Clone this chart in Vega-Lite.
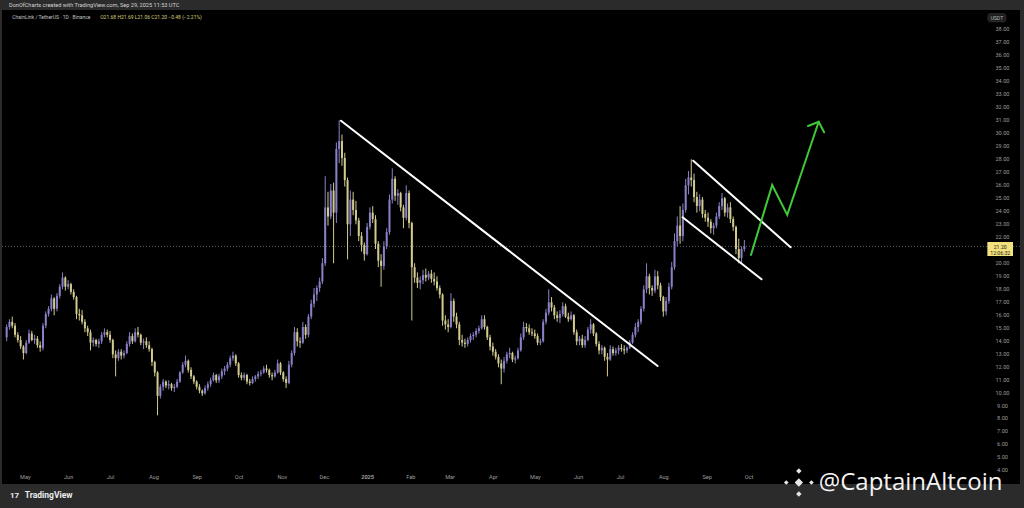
{
"$schema": "https://vega.github.io/schema/vega-lite/v6.json",
"width": 1018, "height": 474,
"autosize": {"type": "none"},
"padding": {"left": 2, "top": 10, "right": 4, "bottom": 24},
"background": "#2b2b2b",
"config": {"view": {"fill": "#000000", "stroke": null}, "font": "Roboto",
  "axis": {"labelOverlap": false, "grid": false, "ticks": false, "domain": false}},
"datasets": {
"candles": [
{"t":"2024-04-18","o":14.2,"h":15.2,"l":13.9,"c":15.0},
{"t":"2024-04-20","o":15.0,"h":15.6,"l":14.8,"c":15.4},
{"t":"2024-04-22","o":15.4,"h":15.8,"l":14.9,"c":15.1},
{"t":"2024-04-24","o":15.1,"h":15.3,"l":14.2,"c":14.4},
{"t":"2024-04-26","o":14.4,"h":14.6,"l":13.8,"c":14.0},
{"t":"2024-04-28","o":14.0,"h":14.3,"l":13.3,"c":13.5},
{"t":"2024-04-30","o":13.5,"h":13.6,"l":12.5,"c":13.0},
{"t":"2024-05-02","o":13.0,"h":14.0,"l":12.9,"c":13.8},
{"t":"2024-05-04","o":13.8,"h":14.8,"l":13.7,"c":14.5},
{"t":"2024-05-06","o":14.5,"h":14.7,"l":13.9,"c":14.0},
{"t":"2024-05-08","o":14.0,"h":14.4,"l":13.7,"c":14.1},
{"t":"2024-05-10","o":14.1,"h":14.3,"l":13.4,"c":13.6},
{"t":"2024-05-12","o":13.6,"h":13.9,"l":13.1,"c":13.4},
{"t":"2024-05-14","o":13.4,"h":15.3,"l":13.2,"c":15.1},
{"t":"2024-05-16","o":15.1,"h":16.2,"l":14.9,"c":16.0},
{"t":"2024-05-18","o":16.0,"h":16.6,"l":15.8,"c":16.4},
{"t":"2024-05-20","o":16.4,"h":17.5,"l":16.2,"c":17.2},
{"t":"2024-05-22","o":17.2,"h":17.3,"l":15.9,"c":16.4},
{"t":"2024-05-24","o":16.4,"h":17.6,"l":16.2,"c":17.4},
{"t":"2024-05-26","o":17.4,"h":18.3,"l":17.2,"c":18.1},
{"t":"2024-05-28","o":18.1,"h":19.2,"l":17.9,"c":18.8},
{"t":"2024-05-30","o":18.8,"h":18.9,"l":17.8,"c":18.1},
{"t":"2024-06-01","o":18.1,"h":18.6,"l":17.9,"c":18.3},
{"t":"2024-06-03","o":18.3,"h":18.4,"l":17.5,"c":17.7},
{"t":"2024-06-05","o":17.7,"h":17.9,"l":17.1,"c":17.3},
{"t":"2024-06-07","o":17.3,"h":17.4,"l":15.6,"c":16.0},
{"t":"2024-06-09","o":16.0,"h":16.4,"l":15.5,"c":15.9},
{"t":"2024-06-11","o":15.9,"h":16.3,"l":15.2,"c":15.4},
{"t":"2024-06-13","o":15.4,"h":15.6,"l":14.6,"c":14.9},
{"t":"2024-06-15","o":14.9,"h":15.1,"l":14.3,"c":14.6},
{"t":"2024-06-17","o":14.6,"h":14.8,"l":13.2,"c":13.8},
{"t":"2024-06-19","o":13.8,"h":14.2,"l":13.5,"c":14.0},
{"t":"2024-06-21","o":14.0,"h":14.1,"l":13.5,"c":13.7},
{"t":"2024-06-23","o":13.7,"h":14.1,"l":13.4,"c":13.9},
{"t":"2024-06-25","o":13.9,"h":14.6,"l":13.7,"c":14.4},
{"t":"2024-06-27","o":14.4,"h":14.9,"l":14.2,"c":14.6},
{"t":"2024-06-29","o":14.6,"h":14.8,"l":14.2,"c":14.4},
{"t":"2024-07-01","o":14.4,"h":14.7,"l":13.8,"c":14.0},
{"t":"2024-07-03","o":14.0,"h":14.1,"l":12.6,"c":12.9},
{"t":"2024-07-05","o":12.9,"h":13.2,"l":11.2,"c":12.6},
{"t":"2024-07-07","o":12.6,"h":13.3,"l":12.4,"c":13.1},
{"t":"2024-07-09","o":13.1,"h":13.3,"l":12.5,"c":12.8},
{"t":"2024-07-11","o":12.8,"h":13.2,"l":12.6,"c":13.0},
{"t":"2024-07-13","o":13.0,"h":13.9,"l":12.9,"c":13.7},
{"t":"2024-07-15","o":13.7,"h":14.6,"l":13.5,"c":14.3},
{"t":"2024-07-17","o":14.3,"h":14.5,"l":13.7,"c":13.9},
{"t":"2024-07-19","o":13.9,"h":14.9,"l":13.8,"c":14.6},
{"t":"2024-07-21","o":14.6,"h":15.0,"l":14.2,"c":14.4},
{"t":"2024-07-23","o":14.4,"h":14.5,"l":13.6,"c":13.8},
{"t":"2024-07-25","o":13.8,"h":14.1,"l":13.3,"c":13.9},
{"t":"2024-07-27","o":13.9,"h":14.2,"l":13.4,"c":13.6},
{"t":"2024-07-29","o":13.6,"h":13.9,"l":13.1,"c":13.3},
{"t":"2024-07-31","o":13.3,"h":13.4,"l":12.0,"c":12.3},
{"t":"2024-08-02","o":12.3,"h":12.4,"l":11.2,"c":11.5},
{"t":"2024-08-04","o":11.5,"h":11.6,"l":8.2,"c":9.7},
{"t":"2024-08-06","o":9.7,"h":10.6,"l":9.5,"c":10.4},
{"t":"2024-08-08","o":10.4,"h":11.0,"l":10.1,"c":10.8},
{"t":"2024-08-10","o":10.8,"h":10.9,"l":10.3,"c":10.5},
{"t":"2024-08-12","o":10.5,"h":10.9,"l":10.2,"c":10.6},
{"t":"2024-08-14","o":10.6,"h":10.7,"l":10.1,"c":10.3},
{"t":"2024-08-16","o":10.3,"h":10.6,"l":10.0,"c":10.4},
{"t":"2024-08-18","o":10.4,"h":11.0,"l":10.3,"c":10.8},
{"t":"2024-08-20","o":10.8,"h":11.6,"l":10.7,"c":11.5},
{"t":"2024-08-22","o":11.5,"h":12.3,"l":11.4,"c":12.1},
{"t":"2024-08-24","o":12.1,"h":12.8,"l":11.9,"c":12.4},
{"t":"2024-08-26","o":12.4,"h":12.5,"l":11.5,"c":11.7},
{"t":"2024-08-28","o":11.7,"h":11.9,"l":11.0,"c":11.2},
{"t":"2024-08-30","o":11.2,"h":11.3,"l":10.6,"c":10.8},
{"t":"2024-09-01","o":10.8,"h":10.9,"l":10.2,"c":10.4},
{"t":"2024-09-03","o":10.4,"h":10.6,"l":9.9,"c":10.1},
{"t":"2024-09-05","o":10.1,"h":10.2,"l":9.7,"c":9.9},
{"t":"2024-09-07","o":9.9,"h":10.5,"l":9.8,"c":10.3},
{"t":"2024-09-09","o":10.3,"h":10.8,"l":10.1,"c":10.6},
{"t":"2024-09-11","o":10.6,"h":11.1,"l":10.4,"c":10.9},
{"t":"2024-09-13","o":10.9,"h":11.5,"l":10.8,"c":11.3},
{"t":"2024-09-15","o":11.3,"h":11.4,"l":10.7,"c":10.9},
{"t":"2024-09-17","o":10.9,"h":11.4,"l":10.7,"c":11.2},
{"t":"2024-09-19","o":11.2,"h":11.8,"l":11.0,"c":11.6},
{"t":"2024-09-21","o":11.6,"h":12.0,"l":11.3,"c":11.8},
{"t":"2024-09-23","o":11.8,"h":12.3,"l":11.6,"c":12.1},
{"t":"2024-09-25","o":12.1,"h":12.8,"l":11.9,"c":12.6},
{"t":"2024-09-27","o":12.6,"h":13.1,"l":12.4,"c":12.8},
{"t":"2024-09-29","o":12.8,"h":12.9,"l":12.0,"c":12.2},
{"t":"2024-10-01","o":12.2,"h":12.3,"l":11.1,"c":11.3},
{"t":"2024-10-03","o":11.3,"h":11.5,"l":10.9,"c":11.1},
{"t":"2024-10-05","o":11.1,"h":11.5,"l":10.9,"c":11.3},
{"t":"2024-10-07","o":11.3,"h":11.4,"l":10.6,"c":10.8},
{"t":"2024-10-09","o":10.8,"h":11.0,"l":10.5,"c":10.7},
{"t":"2024-10-11","o":10.7,"h":11.2,"l":10.6,"c":11.0},
{"t":"2024-10-13","o":11.0,"h":11.3,"l":10.8,"c":11.2},
{"t":"2024-10-15","o":11.2,"h":11.6,"l":11.0,"c":11.4},
{"t":"2024-10-17","o":11.4,"h":11.7,"l":11.2,"c":11.5},
{"t":"2024-10-19","o":11.5,"h":12.0,"l":11.4,"c":11.8},
{"t":"2024-10-21","o":11.8,"h":12.1,"l":11.5,"c":11.7},
{"t":"2024-10-23","o":11.7,"h":11.8,"l":11.1,"c":11.3},
{"t":"2024-10-25","o":11.3,"h":11.5,"l":10.9,"c":11.2},
{"t":"2024-10-27","o":11.2,"h":11.7,"l":11.1,"c":11.5},
{"t":"2024-10-29","o":11.5,"h":12.5,"l":11.4,"c":12.2},
{"t":"2024-10-31","o":12.2,"h":12.3,"l":11.3,"c":11.5},
{"t":"2024-11-02","o":11.5,"h":11.6,"l":10.8,"c":11.0},
{"t":"2024-11-04","o":11.0,"h":11.2,"l":10.3,"c":10.7},
{"t":"2024-11-06","o":10.7,"h":12.4,"l":10.6,"c":12.1},
{"t":"2024-11-08","o":12.1,"h":13.2,"l":11.9,"c":13.0},
{"t":"2024-11-10","o":13.0,"h":15.0,"l":12.8,"c":14.6},
{"t":"2024-11-12","o":14.6,"h":14.9,"l":13.5,"c":13.9},
{"t":"2024-11-14","o":13.9,"h":14.2,"l":13.4,"c":13.8},
{"t":"2024-11-16","o":13.8,"h":15.4,"l":13.7,"c":15.0},
{"t":"2024-11-18","o":15.0,"h":15.2,"l":14.1,"c":14.4},
{"t":"2024-11-20","o":14.4,"h":16.0,"l":14.2,"c":15.8},
{"t":"2024-11-22","o":15.8,"h":17.1,"l":15.6,"c":16.8},
{"t":"2024-11-24","o":16.8,"h":18.0,"l":16.5,"c":17.5},
{"t":"2024-11-26","o":17.5,"h":18.2,"l":17.0,"c":18.0},
{"t":"2024-11-28","o":18.0,"h":18.8,"l":17.7,"c":18.5},
{"t":"2024-11-30","o":18.5,"h":20.3,"l":18.3,"c":19.9},
{"t":"2024-12-02","o":19.9,"h":26.6,"l":19.7,"c":24.2},
{"t":"2024-12-04","o":24.2,"h":25.4,"l":22.8,"c":23.5},
{"t":"2024-12-06","o":23.5,"h":26.0,"l":23.3,"c":25.5},
{"t":"2024-12-08","o":25.5,"h":26.1,"l":19.9,"c":23.8},
{"t":"2024-12-10","o":23.8,"h":29.2,"l":23.0,"c":28.7},
{"t":"2024-12-12","o":28.7,"h":30.9,"l":27.6,"c":29.3},
{"t":"2024-12-14","o":29.3,"h":29.8,"l":27.4,"c":28.0},
{"t":"2024-12-16","o":28.0,"h":28.4,"l":25.8,"c":26.3},
{"t":"2024-12-18","o":26.3,"h":26.5,"l":20.2,"c":22.9},
{"t":"2024-12-20","o":22.9,"h":25.5,"l":22.0,"c":24.8},
{"t":"2024-12-22","o":24.8,"h":25.4,"l":23.6,"c":24.0},
{"t":"2024-12-24","o":24.0,"h":24.7,"l":22.9,"c":23.2},
{"t":"2024-12-26","o":23.2,"h":23.4,"l":21.6,"c":22.0},
{"t":"2024-12-28","o":22.0,"h":22.3,"l":20.8,"c":21.3},
{"t":"2024-12-30","o":21.3,"h":21.5,"l":20.1,"c":20.6},
{"t":"2025-01-01","o":20.6,"h":23.0,"l":20.5,"c":22.7},
{"t":"2025-01-03","o":22.7,"h":24.2,"l":22.5,"c":23.8},
{"t":"2025-01-05","o":23.8,"h":24.3,"l":23.0,"c":23.3},
{"t":"2025-01-07","o":23.3,"h":23.6,"l":21.0,"c":21.4},
{"t":"2025-01-09","o":21.4,"h":21.6,"l":19.6,"c":20.1},
{"t":"2025-01-11","o":20.1,"h":20.6,"l":18.1,"c":19.7},
{"t":"2025-01-13","o":19.7,"h":21.6,"l":19.4,"c":21.2},
{"t":"2025-01-15","o":21.2,"h":22.6,"l":21.0,"c":22.3},
{"t":"2025-01-17","o":22.3,"h":25.2,"l":22.1,"c":24.8},
{"t":"2025-01-19","o":24.8,"h":27.2,"l":24.5,"c":26.4},
{"t":"2025-01-21","o":26.4,"h":26.6,"l":24.7,"c":25.1},
{"t":"2025-01-23","o":25.1,"h":25.6,"l":24.4,"c":25.3},
{"t":"2025-01-25","o":25.3,"h":25.4,"l":23.9,"c":24.2},
{"t":"2025-01-27","o":24.2,"h":24.4,"l":22.6,"c":23.4},
{"t":"2025-01-29","o":23.4,"h":25.9,"l":23.2,"c":25.3},
{"t":"2025-01-31","o":25.3,"h":25.5,"l":22.6,"c":23.0},
{"t":"2025-02-02","o":23.0,"h":23.1,"l":15.5,"c":19.6},
{"t":"2025-02-04","o":19.6,"h":19.9,"l":18.4,"c":18.8},
{"t":"2025-02-06","o":18.8,"h":19.2,"l":18.0,"c":18.4},
{"t":"2025-02-08","o":18.4,"h":18.9,"l":17.9,"c":18.6},
{"t":"2025-02-10","o":18.6,"h":19.4,"l":18.3,"c":19.0},
{"t":"2025-02-12","o":19.0,"h":19.5,"l":18.5,"c":18.8},
{"t":"2025-02-14","o":18.8,"h":19.3,"l":18.6,"c":19.1},
{"t":"2025-02-16","o":19.1,"h":19.4,"l":18.4,"c":18.7},
{"t":"2025-02-18","o":18.7,"h":19.2,"l":18.2,"c":18.5},
{"t":"2025-02-20","o":18.5,"h":18.9,"l":17.8,"c":18.0},
{"t":"2025-02-22","o":18.0,"h":18.2,"l":17.2,"c":17.5},
{"t":"2025-02-24","o":17.5,"h":17.6,"l":15.1,"c":15.5},
{"t":"2025-02-26","o":15.5,"h":15.9,"l":14.8,"c":15.2},
{"t":"2025-02-28","o":15.2,"h":15.6,"l":14.6,"c":15.0},
{"t":"2025-03-02","o":15.0,"h":17.6,"l":14.9,"c":17.0},
{"t":"2025-03-04","o":17.0,"h":17.2,"l":15.4,"c":15.8},
{"t":"2025-03-06","o":15.8,"h":16.1,"l":14.9,"c":15.2},
{"t":"2025-03-08","o":15.2,"h":15.4,"l":13.6,"c":14.0},
{"t":"2025-03-10","o":14.0,"h":14.4,"l":13.5,"c":13.8},
{"t":"2025-03-12","o":13.8,"h":14.1,"l":13.4,"c":13.7},
{"t":"2025-03-14","o":13.7,"h":14.2,"l":13.5,"c":14.0},
{"t":"2025-03-16","o":14.0,"h":14.5,"l":13.8,"c":14.3},
{"t":"2025-03-18","o":14.3,"h":14.6,"l":14.0,"c":14.4},
{"t":"2025-03-20","o":14.4,"h":14.9,"l":14.2,"c":14.7},
{"t":"2025-03-22","o":14.7,"h":15.1,"l":14.5,"c":14.9},
{"t":"2025-03-24","o":14.9,"h":15.9,"l":14.8,"c":15.6},
{"t":"2025-03-26","o":15.6,"h":15.9,"l":14.8,"c":15.0},
{"t":"2025-03-28","o":15.0,"h":15.1,"l":14.0,"c":14.2},
{"t":"2025-03-30","o":14.2,"h":14.4,"l":13.2,"c":13.5},
{"t":"2025-04-01","o":13.5,"h":13.8,"l":12.8,"c":13.1},
{"t":"2025-04-03","o":13.1,"h":13.3,"l":12.5,"c":12.7},
{"t":"2025-04-05","o":12.7,"h":12.9,"l":11.9,"c":12.2},
{"t":"2025-04-07","o":12.2,"h":12.5,"l":10.6,"c":11.8},
{"t":"2025-04-09","o":11.8,"h":12.7,"l":11.5,"c":12.4},
{"t":"2025-04-11","o":12.4,"h":13.1,"l":12.2,"c":12.9},
{"t":"2025-04-13","o":12.9,"h":13.4,"l":12.6,"c":13.0},
{"t":"2025-04-15","o":13.0,"h":13.1,"l":12.3,"c":12.5},
{"t":"2025-04-17","o":12.5,"h":12.8,"l":12.2,"c":12.6},
{"t":"2025-04-19","o":12.6,"h":13.4,"l":12.5,"c":13.2},
{"t":"2025-04-21","o":13.2,"h":14.5,"l":13.1,"c":14.2},
{"t":"2025-04-23","o":14.2,"h":15.4,"l":14.0,"c":15.0},
{"t":"2025-04-25","o":15.0,"h":15.3,"l":14.6,"c":14.9},
{"t":"2025-04-27","o":14.9,"h":15.2,"l":14.4,"c":14.6},
{"t":"2025-04-29","o":14.6,"h":14.9,"l":14.3,"c":14.5},
{"t":"2025-05-01","o":14.5,"h":14.8,"l":14.1,"c":14.3},
{"t":"2025-05-03","o":14.3,"h":14.5,"l":13.6,"c":13.8},
{"t":"2025-05-05","o":13.8,"h":14.1,"l":13.6,"c":13.9},
{"t":"2025-05-07","o":13.9,"h":15.6,"l":13.8,"c":15.4},
{"t":"2025-05-09","o":15.4,"h":16.4,"l":15.2,"c":16.1},
{"t":"2025-05-11","o":16.1,"h":17.9,"l":15.9,"c":16.9},
{"t":"2025-05-13","o":16.9,"h":17.3,"l":16.2,"c":16.5},
{"t":"2025-05-15","o":16.5,"h":16.7,"l":15.6,"c":15.9},
{"t":"2025-05-17","o":15.9,"h":16.2,"l":15.4,"c":15.7},
{"t":"2025-05-19","o":15.7,"h":16.3,"l":15.3,"c":16.0},
{"t":"2025-05-21","o":16.0,"h":16.9,"l":15.8,"c":16.6},
{"t":"2025-05-23","o":16.6,"h":16.8,"l":15.7,"c":15.8},
{"t":"2025-05-25","o":15.8,"h":16.1,"l":15.4,"c":15.6},
{"t":"2025-05-27","o":15.6,"h":16.2,"l":15.5,"c":15.9},
{"t":"2025-05-29","o":15.9,"h":16.0,"l":14.4,"c":14.6},
{"t":"2025-05-31","o":14.6,"h":14.8,"l":13.6,"c":13.9},
{"t":"2025-06-02","o":13.9,"h":14.3,"l":13.6,"c":14.1},
{"t":"2025-06-04","o":14.1,"h":14.4,"l":13.4,"c":13.6},
{"t":"2025-06-06","o":13.6,"h":14.3,"l":13.4,"c":14.0},
{"t":"2025-06-08","o":14.0,"h":15.0,"l":13.9,"c":14.8},
{"t":"2025-06-10","o":14.8,"h":15.6,"l":14.5,"c":15.2},
{"t":"2025-06-12","o":15.2,"h":15.3,"l":14.3,"c":14.5},
{"t":"2025-06-14","o":14.5,"h":14.6,"l":13.5,"c":13.7},
{"t":"2025-06-16","o":13.7,"h":13.9,"l":12.9,"c":13.2},
{"t":"2025-06-18","o":13.2,"h":13.6,"l":12.9,"c":13.4},
{"t":"2025-06-20","o":13.4,"h":13.5,"l":12.4,"c":12.7},
{"t":"2025-06-22","o":12.7,"h":13.0,"l":11.2,"c":12.5},
{"t":"2025-06-24","o":12.5,"h":13.6,"l":12.4,"c":13.3},
{"t":"2025-06-26","o":13.3,"h":13.5,"l":12.8,"c":13.0},
{"t":"2025-06-28","o":13.0,"h":13.4,"l":12.8,"c":13.2},
{"t":"2025-06-30","o":13.2,"h":13.6,"l":12.9,"c":13.4},
{"t":"2025-07-02","o":13.4,"h":13.7,"l":13.1,"c":13.3},
{"t":"2025-07-04","o":13.3,"h":13.6,"l":12.9,"c":13.2},
{"t":"2025-07-06","o":13.2,"h":13.5,"l":13.0,"c":13.4},
{"t":"2025-07-08","o":13.4,"h":14.0,"l":13.3,"c":13.8},
{"t":"2025-07-10","o":13.8,"h":14.6,"l":13.7,"c":14.4},
{"t":"2025-07-12","o":14.4,"h":15.3,"l":14.2,"c":15.0},
{"t":"2025-07-14","o":15.0,"h":15.6,"l":14.6,"c":15.4},
{"t":"2025-07-16","o":15.4,"h":16.6,"l":15.2,"c":16.4},
{"t":"2025-07-18","o":16.4,"h":18.2,"l":16.2,"c":17.9},
{"t":"2025-07-20","o":17.9,"h":19.9,"l":17.6,"c":18.9},
{"t":"2025-07-22","o":18.9,"h":19.1,"l":17.5,"c":18.0},
{"t":"2025-07-24","o":18.0,"h":18.2,"l":17.4,"c":17.8},
{"t":"2025-07-26","o":17.8,"h":19.4,"l":17.6,"c":18.9},
{"t":"2025-07-28","o":18.9,"h":19.3,"l":17.9,"c":18.2},
{"t":"2025-07-30","o":18.2,"h":18.4,"l":17.0,"c":17.3},
{"t":"2025-08-01","o":17.3,"h":17.4,"l":15.8,"c":16.2},
{"t":"2025-08-03","o":16.2,"h":17.3,"l":15.9,"c":17.0},
{"t":"2025-08-05","o":17.0,"h":18.4,"l":16.8,"c":18.1},
{"t":"2025-08-07","o":18.1,"h":20.0,"l":17.9,"c":19.6},
{"t":"2025-08-09","o":19.6,"h":22.2,"l":19.4,"c":21.6},
{"t":"2025-08-11","o":21.6,"h":23.5,"l":21.2,"c":22.8},
{"t":"2025-08-13","o":22.8,"h":24.3,"l":21.4,"c":22.0},
{"t":"2025-08-15","o":22.0,"h":24.5,"l":21.6,"c":24.0},
{"t":"2025-08-17","o":24.0,"h":26.4,"l":23.8,"c":25.9},
{"t":"2025-08-19","o":25.9,"h":27.0,"l":25.2,"c":26.5},
{"t":"2025-08-21","o":26.5,"h":27.9,"l":25.8,"c":26.3},
{"t":"2025-08-23","o":26.3,"h":26.8,"l":24.6,"c":25.0},
{"t":"2025-08-25","o":25.0,"h":25.4,"l":23.8,"c":24.3},
{"t":"2025-08-27","o":24.3,"h":25.2,"l":23.9,"c":24.8},
{"t":"2025-08-29","o":24.8,"h":25.0,"l":23.4,"c":23.7},
{"t":"2025-08-31","o":23.7,"h":24.0,"l":23.1,"c":23.4},
{"t":"2025-09-02","o":23.4,"h":23.8,"l":22.7,"c":23.1},
{"t":"2025-09-04","o":23.1,"h":23.3,"l":22.2,"c":22.6},
{"t":"2025-09-06","o":22.6,"h":23.0,"l":22.1,"c":22.8},
{"t":"2025-09-08","o":22.8,"h":23.8,"l":22.6,"c":23.5},
{"t":"2025-09-10","o":23.5,"h":24.6,"l":23.3,"c":24.3},
{"t":"2025-09-12","o":24.3,"h":25.3,"l":24.0,"c":24.9},
{"t":"2025-09-14","o":24.9,"h":25.0,"l":23.5,"c":23.8},
{"t":"2025-09-16","o":23.8,"h":24.5,"l":23.4,"c":24.2},
{"t":"2025-09-18","o":24.2,"h":24.6,"l":23.0,"c":23.3},
{"t":"2025-09-20","o":23.3,"h":23.5,"l":22.4,"c":22.7},
{"t":"2025-09-22","o":22.7,"h":22.8,"l":20.6,"c":21.0},
{"t":"2025-09-24","o":21.0,"h":21.8,"l":19.9,"c":20.3},
{"t":"2025-09-26","o":20.3,"h":21.2,"l":19.9,"c":21.0},
{"t":"2025-09-28","o":21.0,"h":21.7,"l":20.8,"c":21.2}
],
"trend": [
{"g":"a","i":0,"t":"2024-12-13T07:00:00Z","p":30.87},{"g":"a","i":1,"t":"2025-07-27T22:00:00Z","p":12.0},
{"g":"b","i":0,"t":"2025-08-22T10:00:00Z","p":27.79},{"g":"b","i":1,"t":"2025-10-31T02:00:00Z","p":21.13},
{"g":"c","i":0,"t":"2025-08-14T19:00:00Z","p":23.44},{"g":"c","i":1,"t":"2025-10-10T07:00:00Z","p":18.67}
],
"arrow": [
{"g":"a","i":0,"t":"2025-10-02T17:00:00Z","p":20.54},{"g":"a","i":1,"t":"2025-10-17T22:00:00Z","p":25.92},{"g":"a","i":2,"t":"2025-10-28T17:00:00Z","p":23.62},{"g":"a","i":3,"t":"2025-11-20T05:00:00Z","p":30.79},
{"g":"h","i":0,"t":"2025-11-12T14:00:00Z","p":30.46},{"g":"h","i":1,"t":"2025-11-20T05:00:00Z","p":30.79},{"g":"h","i":2,"t":"2025-11-24T02:00:00Z","p":29.98}
],
"logo": [
{"t":"2025-11-06T00:00:00Z","p":3.04,"s":70},
{"t":"2025-10-28T00:00:00Z","p":3.04,"s":22},
{"t":"2025-11-15T00:00:00Z","p":3.04,"s":22},
{"t":"2025-11-06T00:00:00Z","p":3.92,"s":30},
{"t":"2025-11-06T00:00:00Z","p":2.15,"s":30}
]
},
"layer": [
{"data": {"values": [{}]}, "mark": {"type": "rule", "color": "#5c5c5c", "strokeDash": [1, 2], "strokeWidth": 1},
 "encoding": {"y": {"datum": 21.2, "type": "quantitative"}}},
{"data": {"name": "candles"}, "mark": {"type": "rule", "strokeWidth": 1, "clip": true},
 "encoding": {
  "x": {"field": "t", "type": "temporal",
        "scale": {"type": "utc", "domain": [{"year": 2024, "month": 4, "date": 18, "hours": 6, "utc": true}, {"year": 2026, "month": 4, "date": 9, "hours": 17, "utc": true}]},
        "axis": {"orient": "bottom", "offset": -16, "domain": false, "ticks": false, "grid": false, "title": null,
                 "labelFontSize": 5.6, "labelColor": "#9c9c9c", "labelPadding": 6, "labelOverlap": false, "labelFlush": false, "tickCount": 40,
                 "values": [
                  {"year": 2024, "month": 5, "date": 1, "utc": true}, {"year": 2024, "month": 6, "date": 1, "utc": true},
                  {"year": 2024, "month": 7, "date": 1, "utc": true}, {"year": 2024, "month": 8, "date": 1, "utc": true},
                  {"year": 2024, "month": 9, "date": 1, "utc": true}, {"year": 2024, "month": 10, "date": 1, "utc": true},
                  {"year": 2024, "month": 11, "date": 1, "utc": true}, {"year": 2024, "month": 12, "date": 1, "utc": true},
                  {"year": 2025, "month": 1, "date": 1, "utc": true}, {"year": 2025, "month": 2, "date": 1, "utc": true},
                  {"year": 2025, "month": 3, "date": 1, "utc": true}, {"year": 2025, "month": 4, "date": 1, "utc": true},
                  {"year": 2025, "month": 5, "date": 1, "utc": true}, {"year": 2025, "month": 6, "date": 1, "utc": true},
                  {"year": 2025, "month": 7, "date": 1, "utc": true}, {"year": 2025, "month": 8, "date": 1, "utc": true},
                  {"year": 2025, "month": 9, "date": 1, "utc": true}, {"year": 2025, "month": 10, "date": 1, "utc": true}],
                 "labelExpr": "utcFormat(datum.value, '%m') == '01' ? utcFormat(datum.value, '%Y') : utcFormat(datum.value, '%b')",
                 "labelFontWeight": {"condition": {"test": "utcmonth(datum.value) == 0", "value": "bold"}, "value": "normal"}}},
  "y": {"field": "l", "type": "quantitative",
        "scale": {"domain": [2.923, 39.385], "nice": false, "zero": false},
        "axis": {"orient": "right", "offset": -38, "domain": false, "ticks": false, "grid": false, "title": null,
                 "labelFontSize": 5.6, "labelColor": "#9c9c9c", "labelPadding": 20, "labelAlign": "center", "labelBaseline": "middle",
                 "labelOverlap": false, "labelFlush": false, "format": ".2f", "tickCount": 60,
                 "values": [4,5,6,7,8,9,10,11,12,13,14,15,16,17,18,19,20,22,23,24,25,26,27,28,29,30,31,32,33,34,35,36,37,38]}},
  "y2": {"field": "h"},
  "color": {"condition": {"test": "datum.c >= datum.o", "value": "#8a80c8"}, "value": "#d2ca8e"}
 }},
{"data": {"name": "candles"}, "mark": {"type": "bar", "size": 2, "clip": true},
 "encoding": {
  "x": {"field": "t", "type": "temporal"},
  "y": {"field": "o", "type": "quantitative"},
  "y2": {"field": "c"},
  "color": {"condition": {"test": "datum.c >= datum.o", "value": "#8a80c8"}, "value": "#d2ca8e"}
 }},
{"data": {"name": "trend"}, "mark": {"type": "line", "color": "#ffffff", "strokeWidth": 2, "strokeCap": "round"},
 "encoding": {"x": {"field": "t", "type": "temporal"}, "y": {"field": "p", "type": "quantitative"}, "detail": {"field": "g"}, "order": {"field": "i"}}},
{"data": {"name": "arrow"}, "mark": {"type": "line", "color": "#41c83a", "strokeWidth": 2, "strokeCap": "round", "strokeJoin": "miter"},
 "encoding": {"x": {"field": "t", "type": "temporal"}, "y": {"field": "p", "type": "quantitative"}, "detail": {"field": "g"}, "order": {"field": "i"}}},
{"data": {"values": [{}]}, "mark": {"type": "rect", "color": "#f2e27d"},
 "encoding": {"x": {"datum": {"year": 2026, "month": 3, "date": 20, "hours": 22, "utc": true}, "type": "temporal"},
              "x2": {"datum": {"year": 2026, "month": 4, "date": 8, "hours": 7, "utc": true}},
              "y": {"datum": 21.54, "type": "quantitative"}, "y2": {"datum": 20.46}}},
{"data": {"values": [{}]}, "mark": {"type": "text", "text": "21.20", "fontSize": 5.2, "color": "#1a1a1a", "align": "center", "baseline": "middle"},
 "encoding": {"x": {"datum": {"year": 2026, "month": 3, "date": 30, "hours": 3, "utc": true}, "type": "temporal"}, "y": {"datum": 21.19, "type": "quantitative"}}},
{"data": {"values": [{}]}, "mark": {"type": "text", "text": "12:06:32", "fontSize": 5.2, "color": "#1a1a1a", "align": "center", "baseline": "middle"},
 "encoding": {"x": {"datum": {"year": 2026, "month": 3, "date": 30, "hours": 3, "utc": true}, "type": "temporal"}, "y": {"datum": 20.73, "type": "quantitative"}}},
{"data": {"values": [{}]}, "mark": {"type": "rect", "color": "#1c1c1c", "stroke": "#3a3a3a", "strokeWidth": 0.8, "cornerRadius": 2},
 "encoding": {"x": {"datum": {"year": 2026, "month": 3, "date": 21, "hours": 10, "utc": true}, "type": "temporal"},
              "x2": {"datum": {"year": 2026, "month": 4, "date": 3, "hours": 2, "utc": true}},
              "y": {"datum": 39.09, "type": "quantitative"}, "y2": {"datum": 38.48}}},
{"data": {"values": [{}]}, "mark": {"type": "text", "text": "USDT", "fontSize": 5.2, "color": "#b8b8b8", "align": "center", "baseline": "middle"},
 "encoding": {"x": {"datum": {"year": 2026, "month": 3, "date": 27, "hours": 17, "utc": true}, "type": "temporal"}, "y": {"datum": 38.8, "type": "quantitative"}}},
{"data": {"values": [{}]}, "mark": {"type": "text", "text": "DonOfCharts created with TradingView.com, Sep 29, 2025 11:53 UTC", "fontSize": 5.6, "color": "#d4d4d4", "align": "left", "baseline": "middle"},
 "encoding": {"x": {"datum": {"year": 2024, "month": 4, "date": 19, "hours": 16, "utc": true}, "type": "temporal"}, "y": {"datum": 39.77, "type": "quantitative"}}},
{"data": {"values": [{}]}, "mark": {"type": "text", "text": "ChainLink / TetherUS · 1D · Binance", "fontSize": 5.0, "color": "#c4c4c4", "align": "left", "baseline": "middle"},
 "encoding": {"x": {"datum": {"year": 2024, "month": 4, "date": 22, "utc": true}, "type": "temporal"}, "y": {"datum": 38.87, "type": "quantitative"}}},
{"data": {"values": [{}]}, "mark": {"type": "text", "text": "O21.68  H21.69  L21.06  C21.20  −0.48 (−2.21%)", "fontSize": 5.0, "color": "#d8cf7e", "align": "left", "baseline": "middle"},
 "encoding": {"x": {"datum": {"year": 2024, "month": 6, "date": 23, "hours": 22, "utc": true}, "type": "temporal"}, "y": {"datum": 38.87, "type": "quantitative"}}},
{"data": {"values": [{}]}, "mark": {"type": "text", "text": "TradingView", "fontSize": 8.5, "fontWeight": "bold", "color": "#ececec", "align": "left", "baseline": "alphabetic"},
 "encoding": {"x": {"datum": {"year": 2024, "month": 5, "date": 1, "utc": true}, "type": "temporal"}, "y": {"datum": 1.846, "type": "quantitative"}}},
{"data": {"values": [{}]}, "mark": {"type": "text", "text": "17", "fontSize": 8, "fontWeight": "bold", "color": "#ececec", "align": "left", "baseline": "alphabetic"},
 "encoding": {"x": {"datum": {"year": 2024, "month": 4, "date": 20, "hours": 10, "utc": true}, "type": "temporal"}, "y": {"datum": 1.846, "type": "quantitative"}}},
{"data": {"name": "logo"}, "mark": {"type": "point", "shape": "diamond", "filled": true, "color": "#e6e6e6", "opacity": 1},
 "encoding": {"x": {"field": "t", "type": "temporal"}, "y": {"field": "p", "type": "quantitative"}, "size": {"field": "s", "type": "quantitative", "scale": null}}},
{"data": {"values": [{}]}, "mark": {"type": "text", "text": "@CaptainAltcoin", "font": "Open Sans", "fontSize": 24, "color": "#f4f4f4", "align": "left", "baseline": "alphabetic"},
 "encoding": {"x": {"datum": {"year": 2025, "month": 11, "date": 20, "hours": 5, "utc": true}, "type": "temporal"}, "y": {"datum": 2.46, "type": "quantitative"}}}
]
}
